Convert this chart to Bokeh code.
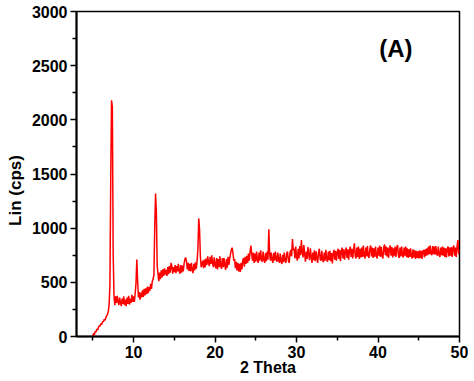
import math
from bokeh.plotting import figure
from bokeh.models import FixedTicker, Label, ColumnDataSource
from bokeh.embed import file_html
from bokeh.resources import INLINE

# --- data -------------------------------------------------------------
theta_start = 5.0
theta_step = 0.1
counts = [
    0, 30, 15, 50, 40, 70, 60, 85, 100, 95,
    120, 110, 140, 135, 160, 150, 175, 190, 205, 230,
    290, 470, 1430, 2180, 2120, 770, 380, 290, 370, 310,
    375, 320, 290, 360, 310, 280, 350, 300, 370, 290,
    340, 280, 360, 300, 375, 295, 350, 310, 385, 320,
    370, 320, 395, 490, 710, 520, 360, 410, 340, 405,
    360, 425, 365, 440, 380, 445, 390, 460, 400, 455,
    420, 485, 440, 510, 530, 570, 1000, 1320, 1150, 650,
    580, 510, 590, 530, 610, 545, 620, 560, 630, 570,
    615, 560, 640, 575, 650, 590, 680, 650, 580, 640,
    595, 660, 585, 650, 600, 670, 605, 580, 660, 590,
    655, 600, 670, 710, 730, 690, 620, 680, 605, 670,
    600, 680, 615, 585, 670, 610, 685, 625, 700, 810,
    1090, 990, 740, 640, 660, 700, 630, 710, 640, 720,
    660, 740, 680, 650, 735, 670, 750, 675, 640, 730,
    660, 630, 725, 620, 715, 640, 740, 650, 625, 725,
    640, 725, 655, 615, 715, 635, 735, 660, 720, 760,
    800, 820, 770, 700, 715, 630, 690, 610, 680, 600,
    670, 595, 680, 620, 700, 725, 645, 735, 670, 745,
    680, 765, 700, 780, 840, 760, 700, 775, 680, 765,
    690, 785, 710, 680, 775, 700, 795, 715, 690, 785,
    705, 680, 770, 695, 785, 710, 990, 770, 700, 775,
    710, 680, 770, 700, 785, 715, 690, 775, 705, 680,
    765, 695, 670, 755, 685, 775, 700, 680, 765, 785,
    700, 680, 770, 800, 740, 900, 800, 810, 720, 830,
    740, 700, 810, 720, 835, 750, 890, 780, 730, 845,
    760, 690, 785, 715, 825, 750, 705, 815, 740, 680,
    775, 705, 795, 695, 785, 720, 680, 775, 810, 715,
    700, 790, 710, 685, 775, 700, 800, 715, 690, 785,
    705, 790, 695, 770, 675, 765, 800, 710, 790, 700,
    775, 810, 715, 800, 695, 785, 820, 720, 805, 710,
    785, 820, 725, 805, 710, 795, 830, 735, 810, 720,
    800, 860, 745, 720, 820, 735, 830, 715, 810, 730,
    820, 735, 840, 745, 720, 820, 740, 835, 745, 725,
    810, 840, 740, 820, 725, 815, 735, 830, 750, 720,
    820, 745, 840, 735, 825, 745, 720, 820, 850, 750,
    830, 740, 820, 725, 810, 840, 745, 825, 730, 815,
    745, 830, 735, 820, 845, 750, 725, 820, 740, 830,
    755, 730, 820, 745, 830, 735, 815, 725, 805, 735,
    815, 740, 720, 805, 730, 795, 715, 790, 725, 785,
    720, 795, 725, 790, 715, 785, 800, 730, 805, 745,
    815, 750, 830, 760, 840, 765, 750, 835, 760, 830,
    755, 835, 765, 745, 830, 755, 735, 820, 750, 830,
    745, 820, 735, 815, 730, 810, 830, 740, 820, 745,
    825, 735, 815, 840, 745, 820, 735, 830, 890, 760,
    800,
]
two_theta = [round(theta_start + i * theta_step, 2) for i in range(len(counts))]

x_major = [10, 20, 30, 40, 50]
x_minor = [5, 15, 25, 35, 45]
y_major = [0, 500, 1000, 1500, 2000, 2500, 3000]
y_minor = [250, 750, 1250, 1750, 2250, 2750]

x_title = "2 Theta"
y_title = "Lin (cps)"
panel_tag = "(A)"

FONT = "Liberation Sans"
NB = "\u00a0"

p = figure(width=468, height=378, x_range=(3, 50), y_range=(0, 3000),
           output_backend="svg", toolbar_location=None)
p.min_border_left = 76
p.min_border_right = 9
p.min_border_top = 11
p.min_border_bottom = 39
p.grid.visible = False
p.outline_line_color = "black"
p.outline_line_width = 1.5
p.background_fill_color = "white"
p.border_fill_color = "white"

src = ColumnDataSource(dict(x=two_theta, y=counts))
p.line("x", "y", source=src, line_color="#ff0000", line_width=1.5)

for ax, maj, mnr in ((p.xaxis[0], x_major, x_minor), (p.yaxis[0], y_major, y_minor)):
    ax.ticker = FixedTicker(ticks=maj, minor_ticks=mnr)
    ax.axis_line_width = 2
    ax.axis_line_color = "black"
    ax.major_tick_in = 0
    ax.major_tick_out = 6
    ax.minor_tick_in = 0
    ax.minor_tick_out = 4
    ax.major_tick_line_width = 1.5
    ax.minor_tick_line_width = 1.5
    ax.major_label_text_font = FONT
    ax.major_label_text_font_style = "bold"
    ax.major_label_text_font_size = "16px"
    ax.major_label_text_color = "black"
    ax.axis_label_text_font = FONT
    ax.axis_label_text_font_style = "bold"
    ax.axis_label_text_color = "black"

p.xaxis[0].major_label_standoff = 3
p.yaxis[0].major_label_standoff = 3
p.xaxis[0].axis_label = x_title
p.xaxis[0].axis_label_text_font_size = "16px"
p.xaxis[0].axis_label_standoff = -2
p.yaxis[0].axis_label = y_title + NB * 7
p.yaxis[0].axis_label_text_font_size = "17px"
p.yaxis[0].axis_label_standoff = 4

p.add_layout(Label(x=42.2, y=2662, text=panel_tag, text_font=FONT,
                   text_font_style="bold", text_font_size="24px",
                   text_color="black",
                   text_align="center", text_baseline="middle"))

open("out.html", "w").write(file_html(p, INLINE))
